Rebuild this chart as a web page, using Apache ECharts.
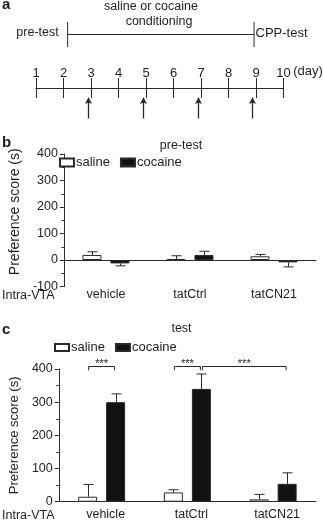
<!DOCTYPE html>
<html>
<head>
<meta charset="utf-8">
<style>
  html, body { margin: 0; padding: 0; background: #fff; }
  #chart { width: 323px; height: 524px; }
</style>
<script src="https://cdn.jsdelivr.net/npm/echarts@6/dist/echarts.min.js"></script>
</head>
<body>
<div id="chart"></div>
<script>
// 数据
const groups = ['vehicle', 'tatCtrl', 'tatCN21'];
const preSaline = [19, 4, 14];
const preSalineErr = [12, 12, 7];
const preCocaine = [-13, 19, -9];
const preCocaineErr = [9, 14, 17];
const testSaline = [15, 28, 7];
const testSalineErr = [37, 8, 15];
const testCocaine = [300, 340, 54];
const testCocaineErr = [25, 45, 33];
// 显著性标记: [组, 侧(0=saline,1=cocaine), 组, 侧]
const testBrackets = [[0, 0, 0, 1], [1, 0, 1, 1], [1, 1, 2, 1]];
const bracketLevel = 410;
const bracketDrop = 14;
// 时间轴
const days = [1, 2, 3, 4, 5, 6, 7, 8, 9, 10];
const injectionDays = [2.88, 4.88, 6.88, 8.86];
const conditioningSpan = [[2.15, 8.93]];

const FONT = 'Liberation Sans, Arial, sans-serif';
const INK = '#1e1e1e';
const LINE = '#2a2a2a';
const BAR_W = 19;
const BAR_GAP = 9;
const OFFSET = (BAR_W + BAR_GAP) / 2;

const chart = echarts.init(document.getElementById('chart'));

function text(str, x, y, size, align, bold) {
  return {
    type: 'text', x: x, y: y, silent: true,
    style: {
      text: str, fill: INK, textAlign: align || 'center', textVerticalAlign: 'middle',
      font: (bold ? 'bold ' : '') + size + 'px ' + FONT
    }
  };
}

function errorBars(values, errs, side, xi, yi) {
  return {
    type: 'custom', xAxisIndex: xi, yAxisIndex: yi, z: 5,
    data: groups.map((g, i) => [i, values[i], errs[i]]),
    renderItem: function (params, api) {
      const v = api.value(1);
      const e = api.value(2);
      const sign = v >= 0 ? 1 : -1;
      const p0 = api.coord([api.value(0), v]);
      const p1 = api.coord([api.value(0), v + sign * e]);
      const cx = Math.round(p0[0] + side * OFFSET) + 0.5;
      const st = { stroke: LINE, lineWidth: 1 };
      return {
        type: 'group',
        children: [
          { type: 'line', shape: { x1: cx, y1: p0[1], x2: cx, y2: p1[1] }, style: st },
          { type: 'line', shape: { x1: cx - 5, y1: p1[1], x2: cx + 5, y2: p1[1] }, style: st }
        ]
      };
    }
  };
}

function barSeries(name, values, xi, yi, fill) {
  return {
    type: 'bar', name: name, xAxisIndex: xi, yAxisIndex: yi,
    data: values,
    barWidth: BAR_W, barGap: (BAR_GAP / BAR_W * 100) + '%',
    itemStyle: { color: fill, borderColor: LINE, borderWidth: 1 },
    z: 3
  };
}

function valueY(grid, min, max, nameSize, namePad) {
  return {
    type: 'value', gridIndex: grid, min: min, max: max, interval: 100,
    axisLine: { show: true, onZero: false, lineStyle: { color: LINE, width: 1 } },
    axisTick: { show: true, length: 4, lineStyle: { color: LINE } },
    minorTick: { show: true, splitNumber: 2, length: 2.5, lineStyle: { color: LINE } },
    splitLine: { show: false },
    axisLabel: { fontSize: 12.5, color: INK, margin: 6, fontFamily: FONT },
    name: 'Preference score (s)', nameLocation: 'middle', nameGap: 34,
    nameTextStyle: { fontSize: nameSize, color: INK, fontFamily: FONT, padding: [0, 0, 0, namePad] }
  };
}

function groupAxis(grid, position, showLine, onZero, labels, margin, pad) {
  return {
    type: 'category', gridIndex: grid, data: groups, position: position,
    axisLine: { show: showLine, onZero: onZero, lineStyle: { color: LINE, width: 1 } },
    axisTick: { show: false }, splitLine: { show: false },
    axisLabel: {
      show: labels, fontSize: 12.5, color: INK, margin: margin, fontFamily: FONT,
      padding: [0, 0, 0, pad]
    }
  };
}

function legendAt(left, top, h) {
  return {
    left: left, top: top, padding: 0, icon: 'rect', itemWidth: 14, itemHeight: h, itemGap: 10,
    data: ['saline', 'cocaine'], selectedMode: false,
    textStyle: { fontSize: 13, color: INK, fontFamily: FONT, padding: [0, 0, 0, -3] }
  };
}

const option = {
  animation: false,
  textStyle: { fontFamily: FONT },
  grid: [
    { left: 36, top: 78, width: 247.5, height: 20 },      // 时间轴
    { left: 36, top: 22, width: 247.5, height: 25 },      // conditioning 区间
    { left: 36, top: 97, width: 247.5, height: 21.5 },    // 箭头
    { left: 52, top: 154, width: 264, height: 132.5 },    // b
    { left: 52, top: 369, width: 264, height: 132.7 }     // c
  ],
  xAxis: [
    {
      type: 'value', gridIndex: 0, min: 1, max: 10, interval: 1, position: 'top',
      axisLine: { onZero: true, lineStyle: { color: LINE, width: 1 } },
      axisTick: { show: false },
      splitLine: { show: true, lineStyle: { color: LINE, width: 1 } },
      axisLabel: { fontSize: 13, color: INK, margin: -1.5, fontFamily: FONT, showMinLabel: true, showMaxLabel: true }
    },
    { type: 'value', gridIndex: 1, min: 1, max: 10, show: false },
    { type: 'value', gridIndex: 2, min: 1, max: 10, show: false },
    groupAxis(3, 'top', true, true, false, 0, 0),
    groupAxis(3, 'bottom', false, false, true, 2, 0),
    groupAxis(4, 'bottom', true, false, true, 6, 8)
  ],
  yAxis: [
    { type: 'value', gridIndex: 0, min: -1, max: 1, show: false },
    { type: 'value', gridIndex: 1, min: 0, max: 2, show: false },
    { type: 'value', gridIndex: 2, min: 0, max: 1, show: false },
    valueY(3, -100, 400, 14, 17),
    valueY(4, 0, 400, 13, 0)
  ],
  legend: [legendAt(59, 156, 8), legendAt(54, 341, 7)],
  graphic: [
    text('a', 2, 5, 15, 'left', true),
    text('saline or cocaine', 151, 6.5, 12.5),
    text('conditioning', 159, 22, 12.5),
    text('pre-test', 37.5, 33, 12.5),
    text('CPP-test', 281.5, 33, 13),
    text('(day)', 308, 71.5, 13),
    text('b', 2, 143, 15, 'left', true),
    text('pre-test', 181, 146, 12.5),
    text('Intra-VTA', 2, 296, 12.5, 'left'),
    text('c', 2, 330, 15, 'left', true),
    text('test', 181.5, 329, 12.5),
    text('Intra-VTA', 2, 516, 12.5, 'left')
  ],
  series: [
    {
      type: 'custom', xAxisIndex: 1, yAxisIndex: 1, clip: false,
      data: conditioningSpan,
      renderItem: function (params, api) {
        const s0 = api.coord([api.value(0), 0]), s2 = api.coord([api.value(0), 2]);
        const e0 = api.coord([api.value(1), 0]), e2 = api.coord([api.value(1), 2]);
        const m = api.coord([api.value(0), 1])[1];
        const st = { stroke: LINE, lineWidth: 1 };
        return {
          type: 'group', children: [
            { type: 'line', shape: { x1: s0[0], y1: m, x2: e0[0], y2: m }, style: st },
            { type: 'line', shape: { x1: s0[0], y1: s0[1], x2: s2[0], y2: s2[1] }, style: st },
            { type: 'line', shape: { x1: e0[0], y1: e0[1], x2: e2[0], y2: e2[1] }, style: st }
          ]
        };
      }
    },
    {
      type: 'custom', xAxisIndex: 2, yAxisIndex: 2, clip: false,
      data: injectionDays.map(d => [d]),
      renderItem: function (params, api) {
        const top = api.coord([api.value(0), 1]);
        const bottom = api.coord([api.value(0), 0]);
        const x = Math.round(top[0]) + 0.5;
        return {
          type: 'group', children: [
            { type: 'line', shape: { x1: x, y1: top[1] + 4, x2: x, y2: bottom[1] }, style: { stroke: LINE, lineWidth: 1.3 } },
            { type: 'polygon', shape: { points: [[x, top[1]], [x - 3.5, top[1] + 7], [x, top[1] + 5.5], [x + 3.5, top[1] + 7]] }, style: { fill: LINE } }
          ]
        };
      }
    },
    barSeries('saline', preSaline, 3, 3, '#ffffff'),
    barSeries('cocaine', preCocaine, 3, 3, '#111111'),
    errorBars(preSaline, preSalineErr, -1, 3, 3),
    errorBars(preCocaine, preCocaineErr, 1, 3, 3),
    barSeries('saline', testSaline, 5, 4, '#ffffff'),
    barSeries('cocaine', testCocaine, 5, 4, '#111111'),
    errorBars(testSaline, testSalineErr, -1, 5, 4),
    errorBars(testCocaine, testCocaineErr, 1, 5, 4),
    {
      type: 'custom', xAxisIndex: 5, yAxisIndex: 4, clip: false, z: 6,
      data: testBrackets,
      renderItem: function (params, api) {
        const hi = api.coord([api.value(0), bracketLevel]);
        const lo = api.coord([api.value(0), bracketLevel - bracketDrop]);
        const x1 = api.coord([api.value(0), 0])[0] + (api.value(1) ? 1 : -1) * OFFSET + 1;
        const x2 = api.coord([api.value(2), 0])[0] + (api.value(3) ? 1 : -1) * OFFSET - 1;
        const y = Math.round(hi[1]) + 0.5;
        const st = { stroke: LINE, lineWidth: 1 };
        return {
          type: 'group', children: [
            { type: 'line', shape: { x1: x1, y1: y, x2: x2, y2: y }, style: st },
            { type: 'line', shape: { x1: x1, y1: y, x2: x1, y2: lo[1] }, style: st },
            { type: 'line', shape: { x1: x2, y1: y, x2: x2, y2: lo[1] }, style: st },
            {
              type: 'text', style: {
                text: '***', x: (x1 + x2) / 2, y: y - 3, textAlign: 'center', textVerticalAlign: 'middle',
                font: '11px ' + FONT, fill: INK
              }
            }
          ]
        };
      }
    }
  ]
};

chart.setOption(option);
</script>
</body>
</html>
